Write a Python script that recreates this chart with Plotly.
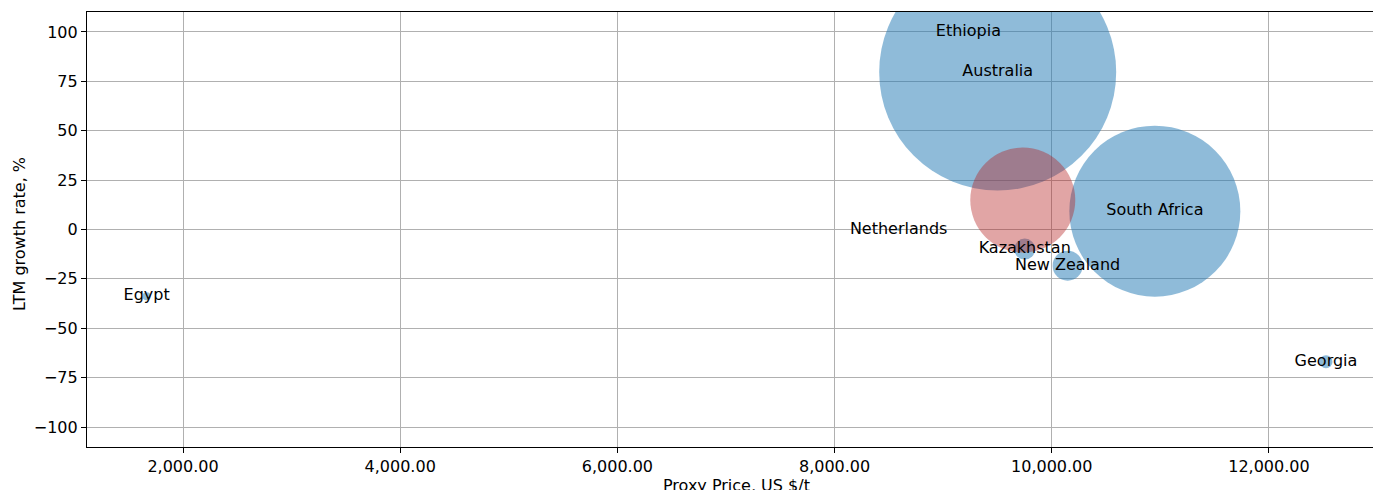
import plotly.graph_objects as go

# bubble chart: proxy price vs LTM growth, bubble area ~ volume
countries = ["Ethiopia", "Australia", "South Africa", "Netherlands",
             "Kazakhstan", "New Zealand", "Egypt", "Georgia"]
proxy_price = [9232, 9502, 10949, 8590, 9751, 10146, 1665, 12525]
growth_rate = [100, 79.7, 9.3, 0, -9.9, -18.3, -33.8, -66.9]
volume = [0.09, 561.7, 292.4, 0.09, 4.41, 9.0, 0.64, 1.69]

# highlighted market, drawn in red without a label
focus_price = [9733]
focus_growth = [14.9]
focus_volume = [110.25]

x_ticks = [2000, 4000, 6000, 8000, 10000, 12000]
y_ticks = [-100, -75, -50, -25, 0, 25, 50, 75, 100]

FONT = dict(family="DejaVu Sans", size=16, color="black")
SIZEREF = 0.02

fig = go.Figure()
fig.add_trace(go.Scatter(
    x=proxy_price, y=growth_rate, mode="markers",
    marker=dict(size=volume, sizemode="area", sizeref=SIZEREF, sizemin=0, opacity=1,
                color="rgba(31,119,180,0.5)", line=dict(width=0)),
    hovertext=countries, showlegend=False))
fig.add_trace(go.Scatter(
    x=focus_price, y=focus_growth, mode="markers",
    marker=dict(size=focus_volume, sizemode="area", sizeref=SIZEREF, opacity=1,
                color="rgba(180,30,30,0.4)", line=dict(width=0)),
    showlegend=False))
fig.add_trace(go.Scatter(
    x=proxy_price, y=growth_rate, mode="text", text=countries,
    textposition="middle center", textfont=FONT, showlegend=False))

axis_common = dict(showgrid=True, gridcolor="#b0b0b0", gridwidth=1.2,
                   zeroline=False, showline=True, linecolor="black", linewidth=1.2,
                   ticks="outside", ticklen=5, tickwidth=1.2, tickcolor="black",
                   tickfont=FONT)
fig.update_xaxes(range=[1116, 12958], tickvals=x_ticks, tickformat=",.2f",
                 mirror=True, **axis_common)
fig.update_yaxes(range=[-110.1, 110.1], tickvals=y_ticks, mirror=False, **axis_common)

fig.add_annotation(text="Proxy Price, US $/t", xref="paper", yref="paper",
                   x=0.505, y=-0.088, xanchor="center", yanchor="middle",
                   showarrow=False, font=FONT)
fig.add_annotation(text="LTM growth rate, %", xref="paper", yref="paper",
                   x=-0.052, y=0.49, xanchor="center", yanchor="middle",
                   textangle=-90, showarrow=False, font=FONT)

fig.update_layout(width=1373, height=490, plot_bgcolor="white", paper_bgcolor="white",
                  margin=dict(l=87, r=0, t=12, b=43), font=FONT)
# drop the default body margin so the figure fills the window exactly
fig.write_html("out.html", config={"displayModeBar": False},
               post_script="document.body.style.margin = '0';")
